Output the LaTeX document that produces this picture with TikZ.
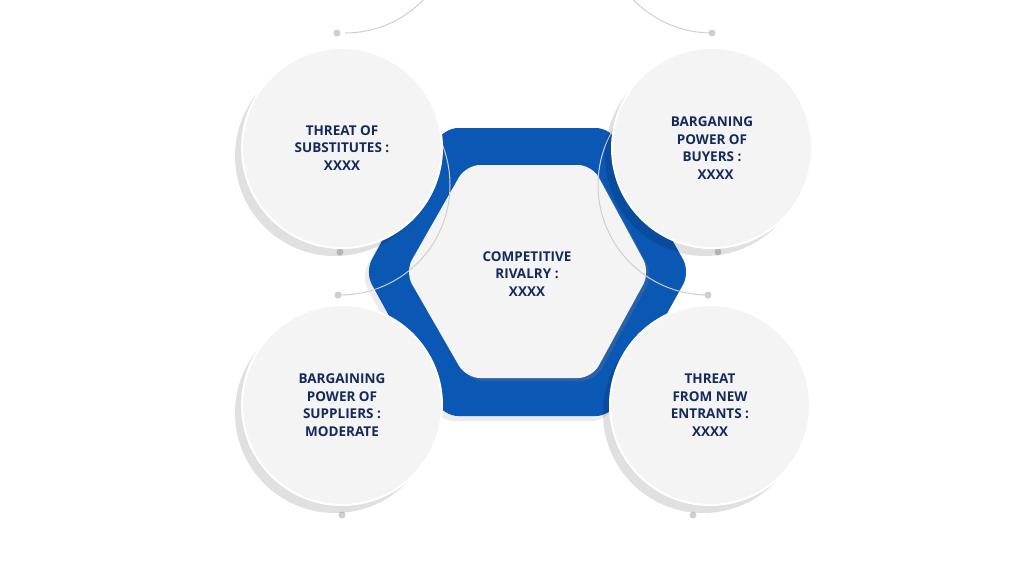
\documentclass[tikz,border=0pt]{standalone}
\usepackage{fontspec}
\setmainfont{Open Sans}
\usetikzlibrary{shadows}
\definecolor{navy}{HTML}{14295C}
\definecolor{hexblue}{HTML}{0B57B4}
\definecolor{circfill}{HTML}{F4F4F4}
\definecolor{arcgray}{HTML}{CFCFCF}
\tikzset{
  bubble/.style={circle, minimum size=200pt, fill=circfill, draw=white, line width=2pt,
    drop shadow={shadow xshift=-7pt, shadow yshift=-8pt, opacity=0.12, fill=black},
    font=\fontsize{13.5pt}{17.5pt}\selectfont\bfseries, text=navy, align=center},
  ring/.style={draw=arcgray, line width=1pt},
  dot/.style={circle, fill=arcgray, inner sep=0pt, minimum size=7pt},
  label/.style={font=\fontsize{13.5pt}{17.5pt}\selectfont\bfseries, text=navy, align=center}
}
\begin{document}
\begin{tikzpicture}[x=1pt,y=-1pt]
\useasboundingbox (0,0) rectangle (1024,576);
\fill[white] (0,0) rectangle (1024,576);
% outer blue hexagon
\fill[hexblue, rounded corners=14pt, drop shadow={shadow xshift=-4pt, shadow yshift=-5pt, opacity=0.15}]
  (444,128) -- (610,128) -- (690,272) -- (610,416) -- (444,416) -- (365,272) -- cycle;
% inner hexagon
\fill[circfill, rounded corners=14pt, drop shadow={shadow xshift=3pt, shadow yshift=-3pt, opacity=0.25}]
  (466,165) -- (592,165) -- (650,272) -- (592,378) -- (466,378) -- (405,272) -- cycle;
\node[label] (center) at (527,274) {COMPETITIVE\\RIVALRY :\\XXXX};
% rings
\draw[ring] (345,33) arc[start angle=90, end angle=-90, radius=109];
\node[dot] (d1) at (337,33) {}; \node[dot] (d2) at (340,252) {};
\draw[ring] (712,33) arc[start angle=90, end angle=270, radius=109.5];
\node[dot] (d3) at (712,33) {}; \node[dot] (d4) at (718,252) {};
\draw[ring] (340,295) arc[start angle=90, end angle=-90, radius=110];
\node[dot] (d5) at (338,295) {}; \node[dot] (d6) at (342,515) {};
\draw[ring] (708,295) arc[start angle=90, end angle=260, radius=110];
\node[dot] (d7) at (708,295) {}; \node[dot] (d8) at (693,515) {};
% bubbles
\node[bubble] (tl) at (342,148) {THREAT OF\\SUBSTITUTES :\\XXXX};
\node[bubble] (tr) at (712,148) {BARGANING\\POWER OF\\BUYERS :\\\ \ XXXX};
\node[bubble] (bl) at (342,405) {BARGAINING\\POWER OF\\SUPPLIERS :\\MODERATE};
\node[bubble] (br) at (710,405) {THREAT\\FROM NEW\\ENTRANTS :\\XXXX};
\end{tikzpicture}
\end{document}
